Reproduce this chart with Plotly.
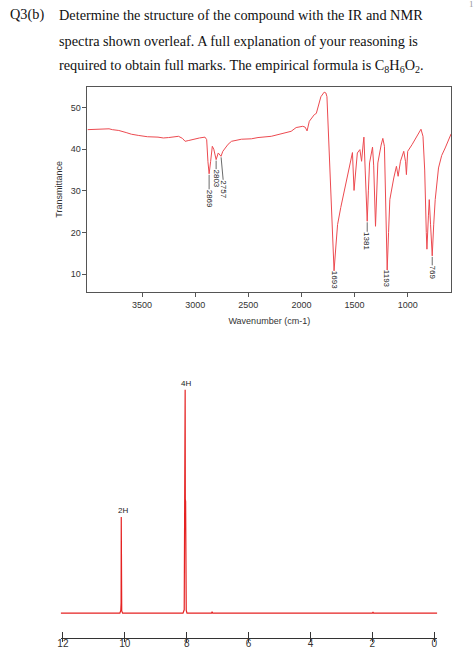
"""IR and 1H NMR spectra for exam question Q3(b), drawn with plotly."""

import plotly.graph_objects as go

# IR spectrum (wavenumber in cm-1, % transmittance)
ir_wavenumber = [4014, 3950, 3900, 3811, 3780, 3719, 3650, 3600, 3531, 3450,
                 3350, 3300, 3250, 3157, 3120, 3095, 3060, 3017, 2960, 2908,
                 2892, 2880, 2869, 2855, 2839, 2825, 2803, 2783, 2757, 2740,
                 2690, 2658, 2565, 2471, 2409, 2284, 2200, 2097, 2050, 1988,
                 1965, 1947, 1926, 1879, 1860, 1842, 1817, 1786, 1770, 1760,
                 1739, 1715, 1693, 1675, 1660, 1630, 1598, 1543, 1520, 1505,
                 1490, 1474, 1450, 1434, 1420, 1412, 1400, 1381, 1370, 1359,
                 1331, 1320, 1303, 1290, 1281, 1250, 1234, 1219, 1205, 1193,
                 1180, 1168, 1131, 1106, 1090, 1068, 1037, 1020, 1012, 1000,
                 959, 912, 875, 856, 840, 825, 819, 805, 797, 785,
                 769, 755, 741, 710, 680, 647, 591]
ir_transmittance = [44.7, 44.8, 44.9, 44.9, 44.7, 44.5, 44.0, 43.6, 43.3, 43.0,
                    42.9, 42.7, 42.8, 43.1, 42.6, 41.9, 42.1, 42.4, 42.7, 42.9,
                    42.3, 37.0, 34.1, 37.0, 40.7, 40.0, 37.5, 39.1, 38.3, 39.5,
                    41.2, 41.9, 42.4, 42.5, 42.8, 43.1, 43.6, 44.3, 45.2, 45.5,
                    45.3, 44.4, 46.7, 48.3, 48.6, 50.2, 52.6, 53.7, 53.5, 52.6,
                    39.5, 22.0, 10.8, 17.0, 21.9, 26.0, 29.9, 37.1, 39.2, 30.1,
                    34.0, 39.1, 39.9, 37.1, 41.0, 42.9, 35.0, 22.7, 30.0, 36.7,
                    40.5, 36.0, 21.5, 32.0, 36.7, 41.0, 42.6, 40.7, 25.0, 11.0,
                    20.0, 27.9, 33.1, 35.9, 33.5, 37.1, 39.5, 37.0, 33.9, 39.5,
                    41.1, 43.1, 44.8, 43.1, 35.0, 20.0, 16.0, 24.0, 27.9, 22.0,
                    14.4, 22.0, 27.9, 35.5, 38.5, 40.3, 43.7]

# Labelled IR peaks
ir_peak_labels = [2869, 2803, 2757, 1693, 1381, 1193, 769]
ir_peak_minima = [34.1, 37.5, 38.3, 10.8, 22.7, 11.0, 14.4]

# 1H NMR spectrum (chemical shift in ppm, relative intensity)
nmr_shift = [12.07, 10.16, 10.13, 10.12, 10.115, 10.105, 10.10, 10.07,
             8.12, 8.08, 8.065, 8.05, 8.045, 8.035, 8.03, 8.015, 7.99,
             7.2, 7.18, 7.16, 3.0, 2.0, 1.98, 1.96, -0.1]
nmr_intensity = [0, 0, 0.012, 0.045, 0.43, 0.012, 0.01, 0,
                 0, 0.015, 0.51, 1.0, 0.51, 0.5, 0.02, 0.012, 0,
                 0, 0.006, 0, 0, 0, 0.005, 0, 0]
nmr_peak_shift = [10.105, 8.05]
nmr_peak_height = [0.43, 1.0]
nmr_peak_labels = ['2H', '4H']
nmr_ticks = [12, 10, 8, 6, 4, 2, 0]

question_lines = [
    'Determine the structure of the compound with the IR and NMR',
    'spectra shown overleaf. A full explanation of your reasoning is',
    'required to obtain full marks. The empirical formula is C<sub>8</sub>H<sub>6</sub>O<sub>2</sub>.',
]

W, H = 474, 649
AXIS_FONT = 'Arial, Liberation Sans, sans-serif'
TEXT_FONT = 'Times New Roman, Liberation Serif, serif'


def px_x(p):
    return p / W


def px_y(p):
    return 1 - p / H


fig = go.Figure()

# IR spectrum
fig.add_trace(go.Scatter(
    x=ir_wavenumber, y=ir_transmittance,
    mode='lines', line=dict(color='#ec4a50', width=1),
    hoverinfo='x+y', showlegend=False,
    xaxis='x', yaxis='y'
))

# peak labels with leader lines
label_offsets = {2869: (0, 25), 2803: (0, 19), 2757: (3, 33), 1693: (0, 9),
                 1381: (0, 20), 1193: (0, 9), 769: (0, 17)}
for wn, t in zip(ir_peak_labels, ir_peak_minima):
    ax, ay = label_offsets[wn]
    fig.add_annotation(
        x=wn, y=t, xref='x', yref='y',
        text=str(wn), textangle=90,
        font=dict(family=AXIS_FONT, size=8, color='#222'),
        showarrow=True, arrowhead=0, arrowwidth=0.8, arrowcolor='#444',
        ax=ax, ay=ay, standoff=1, borderpad=0
    )

# NMR spectrum
fig.add_trace(go.Scatter(
    x=nmr_shift, y=nmr_intensity,
    mode='lines', line=dict(color='#e52222', width=1.2),
    hoverinfo='x+y', showlegend=False,
    xaxis='x2', yaxis='y2'
))
# invisible trace so the overlaid tick axis is drawn
fig.add_trace(go.Scatter(
    x=[None], y=[None], mode='lines', showlegend=False,
    hoverinfo='skip', xaxis='x3', yaxis='y2'
))

for shift, height, label in zip(nmr_peak_shift, nmr_peak_height, nmr_peak_labels):
    fig.add_annotation(
        x=shift, y=height, xref='x2', yref='y2',
        text=label, showarrow=False, yanchor='bottom', xshift=1, yshift=0,
        font=dict(family=AXIS_FONT, size=8, color='#222')
    )

# question text
fig.add_annotation(
    x=px_x(5), y=px_y(15), xref='paper', yref='paper',
    text='Q3(b)', showarrow=False, xanchor='left', yanchor='middle',
    font=dict(family=TEXT_FONT, size=14.3, color='#111')
)
for i, line in enumerate(question_lines):
    fig.add_annotation(
        x=px_x(54), y=px_y(15 + 25.7 * i), xref='paper', yref='paper',
        text=line, showarrow=False, xanchor='left', yanchor='middle',
        font=dict(family=TEXT_FONT, size=14.3, color='#111')
    )
fig.add_annotation(
    x=px_x(471), y=px_y(4), xref='paper', yref='paper',
    text='1', showarrow=False, xanchor='center', yanchor='middle',
    font=dict(family=TEXT_FONT, size=9, color='#999')
)

frame = dict(showline=True, linecolor='#555', linewidth=1, mirror=True,
             showgrid=False, zeroline=False, ticks='outside', ticklen=4,
             tickcolor='#555', tickfont=dict(family=AXIS_FONT, size=9, color='#333'))

fig.update_layout(
    width=W, height=H,
    margin=dict(l=0, r=0, t=0, b=0),
    plot_bgcolor='white', paper_bgcolor='white',
    showlegend=False,
    xaxis=dict(
        domain=[px_x(85), px_x(451)], range=[4014, 591],
        tickvals=[3500, 3000, 2500, 2000, 1500, 1000],
        title=dict(text='Wavenumber (cm-1)', standoff=8,
                   font=dict(family=AXIS_FONT, size=9, color='#333')),
        anchor='y', **frame
    ),
    yaxis=dict(
        domain=[px_y(293), px_y(87)], range=[5.7, 55.0],
        tickvals=[10, 20, 30, 40, 50],
        title=dict(text='Transmittance', standoff=6,
                   font=dict(family=AXIS_FONT, size=9, color='#333')),
        anchor='x', **frame
    ),
    xaxis2=dict(
        domain=[px_x(58), px_x(437)], range=[12.074, -0.096],
        tickvals=nmr_ticks, ticktext=[str(v) for v in nmr_ticks],
        ticks='inside', ticklen=6, tickcolor='#333',
        ticklabelstandoff=-4,
        showline=True, linecolor='#333', linewidth=1,
        showgrid=False, zeroline=False,
        tickfont=dict(family=AXIS_FONT, size=10, color='#333'),
        anchor='y2'
    ),
    xaxis3=dict(
        overlaying='x2', range=[12.074, -0.096], anchor='y2',
        tickvals=nmr_ticks, ticks='outside', ticklen=3, tickcolor='#333',
        showticklabels=False, showline=False, showgrid=False, zeroline=False
    ),
    yaxis2=dict(
        domain=[px_y(639.5), px_y(380)], range=[-0.109, 1.049],
        visible=False, anchor='x2'
    ),
)

# the page has a default 8px body margin; drop it so the figure fills the window
fig.write_html('out.html', config={'displayModeBar': False},
               post_script="document.body.style.margin='0';")
